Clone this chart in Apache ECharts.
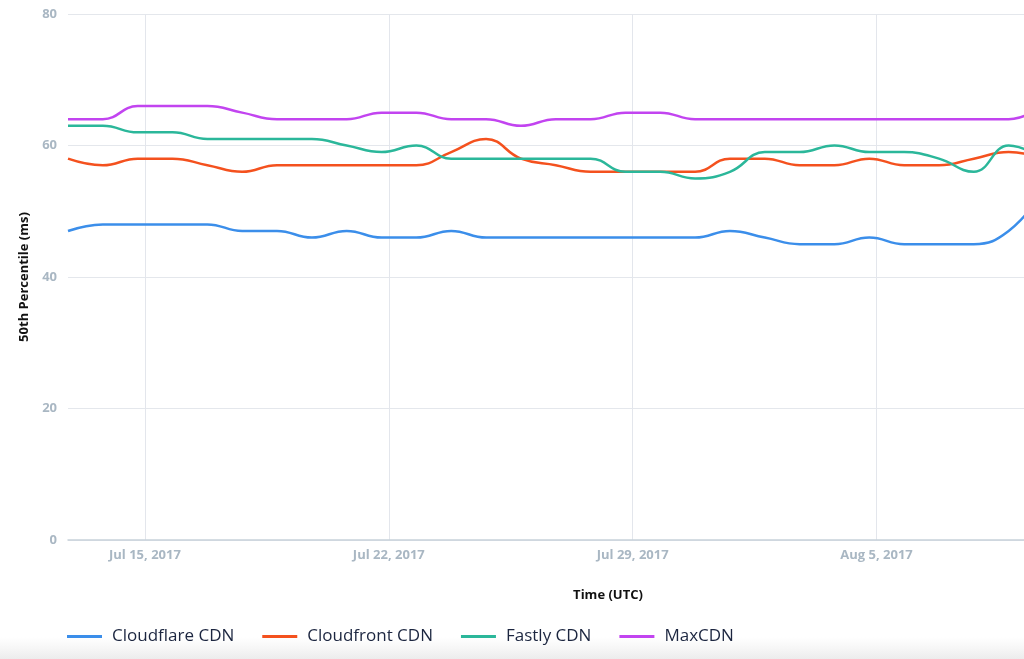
<!DOCTYPE html>
<html>
<head>
<meta charset="utf-8">
<script src="https://cdn.jsdelivr.net/npm/echarts@6/dist/echarts.min.js"></script>
<style>
html,body{margin:0;padding:0;background:#fff;overflow:hidden;width:1024px;height:659px;}
#c{width:1200px;height:659px;}
</style>
</head>
<body>
<div id="c"></div>
<script>
// Daily samples (UTC midnight)
const dates = [
  '2017-07-13','2017-07-14','2017-07-15','2017-07-16','2017-07-17','2017-07-18','2017-07-19',
  '2017-07-20','2017-07-21','2017-07-22','2017-07-23','2017-07-24','2017-07-25','2017-07-26',
  '2017-07-27','2017-07-28','2017-07-29','2017-07-30','2017-07-31','2017-08-01','2017-08-02',
  '2017-08-03','2017-08-04','2017-08-05','2017-08-06','2017-08-07','2017-08-08','2017-08-09',
  '2017-08-10'
];
const cloudflare = [47,48,48,48,48,47,47,46,47,46,46,47,46,46,46,46,46,46,46,47,46,45,45,46,45,45,45,47,53];
const cloudfront = [58,57,58,58,57,56,57,57,57,57,57,59,61,58,57,56,56,56,56,58,58,57,57,58,57,57,58,59,58];
const fastly     = [63,63,62,62,61,61,61,61,60,59,60,58,58,58,58,58,56,56,55,56,59,59,60,59,59,58,56,60,58];
const maxcdn     = [64,64,66,66,66,65,64,64,64,65,65,64,64,63,64,64,65,65,64,64,64,64,64,64,64,64,64,64,66];

const seriesNames = ['Cloudflare CDN','Cloudfront CDN','Fastly CDN','MaxCDN'];
const seriesColors = ['#3b8eea','#f4511e','#2bb79a','#c244f0'];

// Tick labels (shown at local midnight, UTC-5)
const tickDates = ['2017-07-15T00:00:00-05:00','2017-07-22T00:00:00-05:00','2017-07-29T00:00:00-05:00','2017-08-05T00:00:00-05:00'];
const tickLabels = ['Jul 15, 2017','Jul 22, 2017','Jul 29, 2017','Aug 5, 2017'];
const yTicks = [0,20,40,60,80];

const axisStart = Date.parse('2017-07-13T00:00:00Z');
const axisEnd = Date.parse('2017-08-13T00:00:00Z');
const tickTimes = tickDates.map(d => Date.parse(d));

const toPts = vals => dates.map((d,i) => [Date.parse(d + 'T00:00:00Z'), vals[i]]);
const allVals = [cloudflare, cloudfront, fastly, maxcdn];

const chart = echarts.init(document.getElementById('c'));
chart.setOption({
  backgroundColor: '#fff',
  animation: false,
  textStyle: {fontFamily: 'Open Sans'},
  graphic: [{
    type: 'rect', left: 0, bottom: 0, z: -10, silent: true,
    shape: {width: 1200, height: 22},
    style: {fill: new echarts.graphic.LinearGradient(0,0,0,1,[{offset:0,color:'rgba(240,240,240,0)'},{offset:1,color:'#ececec'}])}
  }],
  grid: {left: 68, top: 14, width: 1080, height: 526},
  legend: {
    left: 62, bottom: 9,
    itemWidth: 35, itemHeight: 12, itemGap: 28,
    textStyle: {fontSize: 17, color: '#1c2640', fontFamily: 'Open Sans', padding: [0,0,0,5]},
    data: seriesNames.map((n,i) => ({name: n, icon: 'path://M0,0 L35,0 L35,2.8 L0,2.8 Z', itemStyle: {color: seriesColors[i]}}))
  },
  xAxis: {
    type: 'value', min: axisStart, max: axisEnd,
    name: 'Time (UTC)', nameLocation: 'middle', nameGap: 49,
    nameTextStyle: {fontWeight: 'bold', fontSize: 13, color: '#111', fontFamily: 'Open Sans'},
    axisLine: {lineStyle: {color: '#c8d2da', width: 1.5}},
    axisTick: {show: false, customValues: tickTimes},
    axisLabel: {
      customValues: tickTimes,
      formatter: v => { let b = 0; tickTimes.forEach((t,i) => { if (Math.abs(t - v) < Math.abs(tickTimes[b] - v)) b = i; }); return tickLabels[b]; },
      color: '#a9b7c3', fontWeight: 'bold', fontSize: 13, margin: 9, fontFamily: 'Open Sans'
    },
    splitLine: {show: true, lineStyle: {color: '#e3e6ec', width: 1}}
  },
  yAxis: {
    type: 'value', min: yTicks[0], max: yTicks[yTicks.length-1], interval: 20,
    name: '50th Percentile (ms)', nameLocation: 'middle', nameGap: 33,
    nameTextStyle: {fontWeight: 'bold', fontSize: 13, color: '#111', fontFamily: 'Open Sans'},
    axisLine: {show: false}, axisTick: {show: false},
    axisLabel: {color: '#a9b7c3', fontWeight: 'bold', fontSize: 13, margin: 11, fontFamily: 'Open Sans'},
    splitLine: {lineStyle: {color: '#e4e7ec', width: 1}}
  },
  series: seriesNames.map((n,i) => ({
    name: n, type: 'line', smooth: 0.45, symbol: 'none',
    lineStyle: {width: 2.5, color: seriesColors[i]},
    itemStyle: {color: seriesColors[i]},
    data: toPts(allVals[i])
  }))
});
</script>
</body>
</html>
